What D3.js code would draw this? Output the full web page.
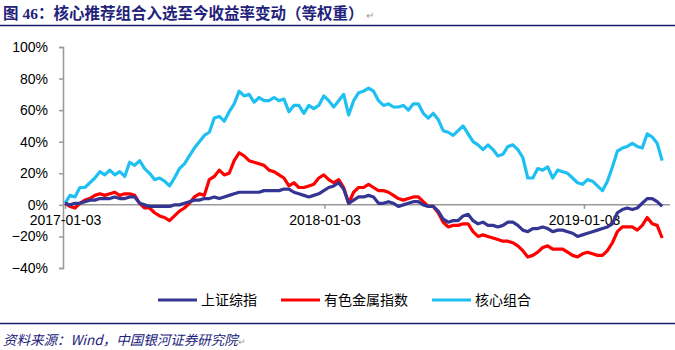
<!DOCTYPE html>
<html>
<head>
<meta charset="utf-8">
<script src="https://cdn.jsdelivr.net/npm/d3@7"></script>
<style>
  body { margin: 0; background: #fff; }
  svg { display: block; }
</style>
</head>
<body>
<div id="chart"></div>
<script>
// weekly readings, 2017-01-03 .. 2019-04-23 (121 weeks)
var START_DATE = "2017-01-03";
var END_DATE   = "2019-04-27";
var TICK_DATES = ["2017-01-03", "2018-01-03", "2019-01-03"];
var Y_TICKS    = [-0.4, -0.2, 0, 0.2, 0.4, 0.6, 0.8, 1.0];
var SERIES_NAMES = ["上证综指", "有色金属指数", "核心组合"];

// 上证综指 (%)
var shIndex = [
  1, 0, 1, 1, 2, 3, 3, 4, 4, 4,
  5, 4, 4, 5, 5, 1, 0, -1, -1, -1,
  -1, -1, 0, 0, 1, 2, 3, 3, 4, 4,
  5, 4, 5, 6, 7, 8, 8, 8, 8, 8,
  9, 9, 9, 9, 10, 10, 8, 7, 6, 5,
  6, 7, 9, 11, 12, 14, 10, 1, 3, 5,
  5, 6, 5, 1, 1, 2, 1, -1, 0, 1,
  2, 2, 0, -1, -1, -4, -9, -11, -10, -10,
  -7, -6, -10, -12, -11, -13, -13, -14, -13, -11,
  -11, -13, -16, -17, -15, -15, -14, -15, -17, -16,
  -16, -17, -18, -20, -19, -18, -17, -16, -15, -14,
  -12, -5, -3, -2, -3, -2, 1, 4, 4, 2,
  -1
];

// 有色金属指数 (%)
var metals = [
  1, -1, -2, 1, 3, 4, 6, 7, 6, 7,
  8, 6, 7, 7, 6, 1, -2, -2, -5, -7,
  -8, -10, -7, -4, -2, 1, 5, 7, 6, 16,
  18, 22, 19, 20, 28, 33, 31, 28, 27, 26,
  25, 22, 21, 19, 17, 12, 14, 11, 11, 12,
  13, 17, 19, 16, 14, 16, 11, 1, 8, 11,
  11, 13, 11, 9, 9, 8, 6, 4, 3, 4,
  5, 5, 2, -1, -1, -5, -11, -14, -13, -13,
  -12, -12, -17, -20, -19, -20, -21, -22, -23, -23,
  -24, -26, -29, -33, -32, -30, -27, -26, -28, -28,
  -28, -30, -32, -33, -31, -30, -31, -32, -32, -29,
  -24, -17, -14, -14, -14, -16, -13, -8, -12, -13,
  -21
];

// 核心组合 (%)
var corePortfolio = [
  1, 6, 5, 11, 11, 14, 17, 21, 19, 22,
  19, 21, 18, 27, 25, 28, 23, 20, 16, 17,
  15, 12, 17, 23, 26, 31, 36, 40, 44, 46,
  55, 56, 53, 59, 64, 72, 69, 70, 65, 68,
  66, 66, 68, 66, 67, 59, 63, 63, 58, 63,
  61, 63, 69, 66, 62, 66, 70, 57, 66, 71,
  72, 74, 72, 66, 63, 64, 62, 62, 63, 60,
  64, 64, 58, 55, 58, 54, 47, 46, 44, 47,
  50, 45, 40, 38, 35, 38, 35, 31, 32, 37,
  38, 35, 30, 17, 17, 23, 22, 24, 17, 22,
  21, 20, 17, 14, 13, 16, 15, 12, 9, 15,
  24, 34, 36, 37, 39, 37, 36, 45, 43, 39,
  28
];

var COLORS = ["#353593", "#ff0000", "#1ec0f2"];

var WIDTH  = 675;
var HEIGHT = 350;

var parse = d3.timeParse("%Y-%m-%d");
var start = parse(START_DATE);
var dates = shIndex.map(function (d, i) { return d3.timeDay.offset(start, 7 * i); });

var x = d3.scaleTime().domain([start, parse(END_DATE)]).range([65, 665]);
var y = d3.scaleLinear().domain([-0.4, 1.0]).range([268, 47]);

var svg = d3.select("#chart").append("svg")
  .attr("width", WIDTH)
  .attr("height", HEIGHT);

// title
var title = svg.append("text")
  .attr("x", 3)
  .attr("y", 19)
  .style("font-family", "'Liberation Serif', 'Noto Sans CJK SC', serif")
  .style("font-size", "15.5px")
  .style("font-weight", "bold")
  .style("fill", "#22227a");
title.append("tspan").text("图 46：核心推荐组合入选至今收益率变动（等权重）");
title.append("tspan")
  .style("font-size", "10px")
  .style("font-weight", "normal")
  .style("fill", "#999")
  .text(" ↵");

svg.append("line")
  .attr("x1", 0).attr("x2", WIDTH)
  .attr("y1", 25.5).attr("y2", 25.5)
  .attr("stroke", "#1d1d6b")
  .attr("stroke-width", 1.5);

// y axis
var yAxis = d3.axisLeft(y)
  .tickValues(Y_TICKS)
  .tickSize(4)
  .tickPadding(11)
  .tickFormat(d3.format(".0%"));

var gy = svg.append("g")
  .attr("transform", "translate(63,0)")
  .call(yAxis);
gy.select(".domain").attr("stroke", "#999").attr("stroke-width", 1.5);
gy.selectAll(".tick line").attr("stroke", "#999").attr("stroke-width", 1.5);
gy.selectAll(".tick text")
  .style("font-family", "'Liberation Sans', Arial, sans-serif")
  .style("font-size", "14px")
  .style("fill", "#000");

// x axis on the zero line
var xAxis = d3.axisBottom(x)
  .tickValues(TICK_DATES.map(parse))
  .tickSize(4)
  .tickPadding(6)
  .tickFormat(d3.timeFormat("%Y-%m-%d"));

var gx = svg.append("g")
  .attr("transform", "translate(0," + y(0) + ")")
  .call(xAxis);
gx.select(".domain")
  .attr("d", "M63,0H670")
  .attr("stroke", "#999")
  .attr("stroke-width", 1.5);
gx.selectAll(".tick line").attr("stroke", "#999").attr("stroke-width", 1.5);
gx.selectAll(".tick text")
  .style("font-family", "'Liberation Sans', Arial, sans-serif")
  .style("font-size", "14px")
  .style("fill", "#000");

// lines
var line = d3.line()
  .x(function (d, i) { return x(dates[i]); })
  .y(function (d) { return y(d / 100); });

var allSeries = [shIndex, metals, corePortfolio];
[2, 1, 0].forEach(function (k) {
  svg.append("path").datum(allSeries[k])
    .attr("fill", "none")
    .attr("stroke", COLORS[k])
    .attr("stroke-width", 3.2)
    .attr("stroke-linejoin", "round")
    .attr("d", line);
});

// legend
var legendX = [158, 281, 432];
var legend = svg.append("g");
SERIES_NAMES.forEach(function (name, k) {
  legend.append("line")
    .attr("x1", legendX[k]).attr("x2", legendX[k] + 39)
    .attr("y1", 300).attr("y2", 300)
    .attr("stroke", COLORS[k])
    .attr("stroke-width", 3);
  legend.append("text")
    .attr("x", legendX[k] + 43)
    .attr("y", 305)
    .style("font-family", "'Noto Sans CJK SC', sans-serif")
    .style("font-size", "14px")
    .style("fill", "#000")
    .text(name);
});

// source
svg.append("line")
  .attr("x1", 0).attr("x2", WIDTH)
  .attr("y1", 323.5).attr("y2", 323.5)
  .attr("stroke", "#1d1d6b")
  .attr("stroke-width", 1.5);

var src = svg.append("text")
  .attr("x", 3)
  .attr("y", 345)
  .style("font-family", "'Noto Sans CJK SC', sans-serif")
  .style("font-size", "13.5px")
  .style("font-style", "italic")
  .style("fill", "#22227a");
src.append("tspan").text("资料来源：Wind，中国银河证券研究院");
src.append("tspan")
  .style("font-size", "9px")
  .style("font-style", "normal")
  .style("fill", "#999")
  .text("↵");
</script>
</body>
</html>
